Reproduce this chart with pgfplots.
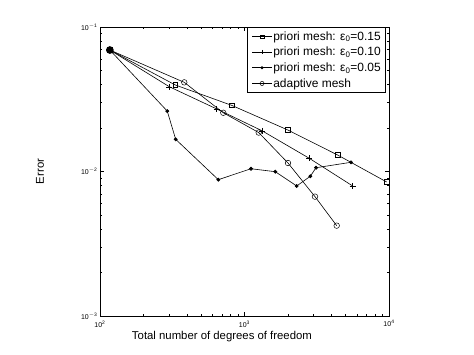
\documentclass[border=0pt]{standalone}
\usepackage{pgfplots}
\pgfplotsset{compat=1.18}
\usepackage{fontspec}
\setmainfont{Liberation Sans}
\begin{document}
\begin{tikzpicture}
\begin{axis}[
  at={(0,0)}, anchor=south west,
  scale only axis, width=289bp, height=289bp,
  xmode=log, ymode=log,
  xmin=100, xmax=10000, ymin=0.001, ymax=0.1,
  xtick={100,1000,10000},
  xticklabels={10\textsuperscript{2},10\textsuperscript{3},10\textsuperscript{4}},
  ytick={0.001,0.01,0.1},
  yticklabels={10\textsuperscript{$-$3},10\textsuperscript{$-$2},10\textsuperscript{$-$1}},
  minor xtick={200,300,400,500,600,700,800,900,2000,3000,4000,5000,6000,7000,8000,9000},
  minor ytick={0.002,0.003,0.004,0.005,0.006,0.007,0.008,0.009,0.02,0.03,0.04,0.05,0.06,0.07,0.08,0.09},
  tick align=inside, tick pos=both,
  major tick length=4bp, minor tick length=2bp,
  tick style={line width=0.5bp, black},
  axis line style={line width=0.8bp},
  tick label style={font=\fontsize{7}{8}\selectfont},
  xticklabel style={yshift=-1bp},
  yticklabel style={xshift=1bp},
  xlabel={Total number of degrees of freedom},
  ylabel={Error},
  label style={font=\fontsize{11.4}{13}\selectfont},
  xlabel style={at={(axis description cs:0.422,0)}, anchor=north, yshift=-12bp},
  ylabel style={at={(axis description cs:-0.2076,0.5)}, anchor=center},
  legend style={at={(rel axis cs:0.99,1)}, anchor=north east,
    font=\fontsize{12}{13}\selectfont, draw=black, line width=0.8bp,
    row sep=3.5bp, inner xsep=4bp, inner ysep=3bp,
    nodes={inner sep=1bp}},
  legend cell align=left,
  legend image code/.code={%
    \draw[mark repeat=2,mark phase=2,#1,every mark/.append style={scale=0.75}]
      plot coordinates {(0bp,0bp)(10bp,0bp)(20bp,0bp)};},
  every axis plot/.append style={black, line width=0.6bp},
]
\addplot[mark=square, mark size=2.3bp, mark options={line width=0.5bp}] coordinates {
 (117,0.0693) (332,0.0397) (815,0.0287) (1991,0.0194) (4416,0.0130) (9640,0.00846)};
\addlegendentry{priori mesh: ε\textsubscript{0}=0.15}
\addplot[mark=+, mark size=3bp, mark options={line width=0.5bp}] coordinates {
 (117,0.0693) (302,0.0386) (642,0.0271) (1328,0.0191) (2808,0.01234) (5608,0.00794)};
\addlegendentry{priori mesh: ε\textsubscript{0}=0.10}
\addplot[mark=*, mark size=1.6bp] coordinates {
 (117,0.0693) (292,0.0262) (334,0.0167) (659,0.00878) (1109,0.01045) (1634,0.00997)
 (2297,0.00794) (2853,0.00927) (3125,0.01062) (5458,0.01158)};
\addlegendentry{priori mesh: ε\textsubscript{0}=0.05}
\addplot[mark=o, mark size=2.8bp, mark options={line width=0.5bp}] coordinates {
 (117,0.0693) (383,0.0414) (713,0.0255) (1254,0.0186) (2000,0.01145) (3075,0.0067) (4346,0.00422)};
\addlegendentry{adaptive mesh}
\addplot[only marks, mark=*, mark size=3.5bp, forget plot] coordinates {(117,0.0693)};
\end{axis}
\path[use as bounding box] (-100bp,-39bp) rectangle (374bp,316bp);
\end{tikzpicture}
\end{document}
